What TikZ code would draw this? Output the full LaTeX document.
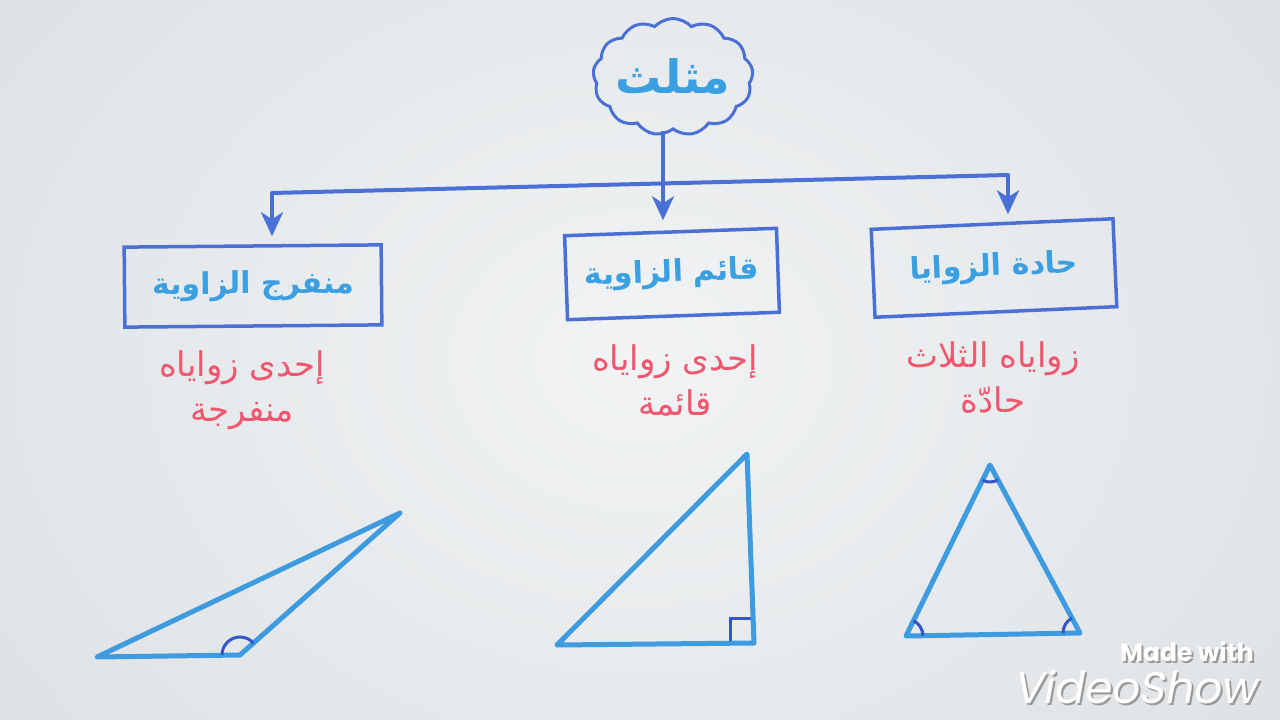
\documentclass[tikz,border=0pt]{standalone}
\usepackage{fontspec}
\usetikzlibrary{arrows.meta,shapes.symbols,calc}
\TeXXeTstate=1
\newfontfamily\arabicfont[Script=Arabic]{DejaVu Sans}
\newfontfamily\wmfont{Poppins}
\newfontfamily\wmslant[FakeSlant=0.18]{Poppins}
\definecolor{bgin}{HTML}{F1F3F4}
\definecolor{bgout}{HTML}{DDE1E4}
\definecolor{frame}{HTML}{4A70D6}
\definecolor{ink}{HTML}{3BA0E2}
\definecolor{redink}{HTML}{F0576F}
\definecolor{tri}{HTML}{3E9BE0}
\definecolor{markc}{HTML}{3556C8}
\definecolor{shadowc}{HTML}{9A9A9A}
\tikzset{
  box/.style={draw=frame, line width=3.5pt, rectangle, inner sep=0pt,
    text=ink, font=\arabicfont\bfseries\fontsize{30}{34}\selectfont},
  redtext/.style={text=redink, align=center,
    font=\arabicfont\fontsize{34}{45}\selectfont},
  arr/.style={draw=frame, line width=4pt,
    -{Stealth[length=24pt,width=22pt,inset=7pt]}, shorten >=2pt},
  link/.style={draw=frame, line width=4pt, line cap=round},
  trig/.style={draw=tri, line width=5pt, line join=round, line cap=round},
  anglemark/.style={draw=markc, line width=3pt},
}
\begin{document}
\begin{tikzpicture}[x=1pt,y=-1pt]
\useasboundingbox (0,0) rectangle (1280,720);
\shade[inner color=bgin, outer color=bgout] (-200,-300) rectangle (1480,1020);

% cloud root
\node[cloud, cloud puffs=13, cloud puff arc=95, aspect=1.45, draw=frame,
  line width=3pt, inner sep=-4pt, minimum width=160pt, minimum height=112pt,
  text=ink, font=\arabicfont\bfseries\fontsize{46}{50}\selectfont]
  (root) at (673,77) {\beginR مثلث\endR};

% boxes
\node[box, minimum width=257pt, minimum height=80pt, rotate=0.5]
  (lbox) at (253,286) {\beginR منفرج الزاوية\endR};
\node[box, minimum width=212pt, minimum height=84pt, rotate=2]
  (mbox) at (672,274) {\beginR قائم الزاوية\endR};
\node[box, minimum width=242pt, minimum height=88pt, rotate=2.5]
  (rbox) at (994,268) {\beginR حادة الزوايا\endR};

% connectors
\coordinate (lc) at (272,193);
\coordinate (rc) at (1008,175);
\coordinate (j) at (663,183.4);
\draw[link] (lc) -- (rc);
\draw[arr] (j |- root.south) -- ($(j |- mbox.north)+(0,-8)$);
\draw[arr] (lc) -- ($(lc |- lbox.north)+(0,-6)$);
\draw[arr] (rc) -- ($(rc |- rbox.north)+(0,-6)$);

% red descriptions
\node[redtext] (ldesc) at (242,390) {\beginR إحدى زواياه\endR\\\beginR منفرجة\endR};
\node[redtext] (mdesc) at (675,380) {\beginR إحدى زواياه\endR\\\beginR قائمة\endR};
\node[redtext] (rdesc) at (993,378) {\beginR زواياه الثلاث\endR\\\beginR حادّة\endR};

% obtuse triangle
\coordinate (oa) at (97,657);
\coordinate (ob) at (240,655);
\coordinate (oc) at (400,513);
\draw[trig] (oa) -- (ob) -- (oc) -- cycle;
\draw[anglemark] ($(ob)+(-18,0)$) arc[start angle=180, end angle=41.6, radius=18pt];

% right triangle
\coordinate (ra) at (557,645);
\coordinate (rb) at (754,643);
\coordinate (rcn) at (747,454);
\draw[anglemark] (730,643) -- (730,618) -- (753,618);
\draw[trig] (ra) -- (rb) -- (rcn) -- cycle;

% acute triangle
\coordinate (at) at (990,465);
\coordinate (al) at (906,636);
\coordinate (ar) at (1080,633);
\draw[trig] (at) -- (al) -- (ar) -- cycle;
\draw[anglemark] ($(at)+(-61.8:17pt)$) arc[start angle=-61.8, end angle=-116, radius=17pt];
\draw[anglemark] ($(al)+(63.8:17pt)$) arc[start angle=63.8, end angle=1, radius=17pt];
\draw[anglemark] ($(ar)+(181:17pt)$) arc[start angle=181, end angle=118.2, radius=17pt];

% watermark
\node[text=shadowc, font=\wmfont\bfseries\fontsize{25}{28}\selectfont] at (1189,654) {Made with};
\node[text=white, font=\wmfont\bfseries\fontsize{25}{28}\selectfont] (wm1) at (1187,652) {Made with};
\node[text=shadowc, font=\wmslant\fontsize{44}{48}\selectfont] at (1137,689) {VideoShow};
\node[text=white, font=\wmslant\fontsize{44}{48}\selectfont] (wm2) at (1135,687) {VideoShow};
\end{tikzpicture}
\end{document}
